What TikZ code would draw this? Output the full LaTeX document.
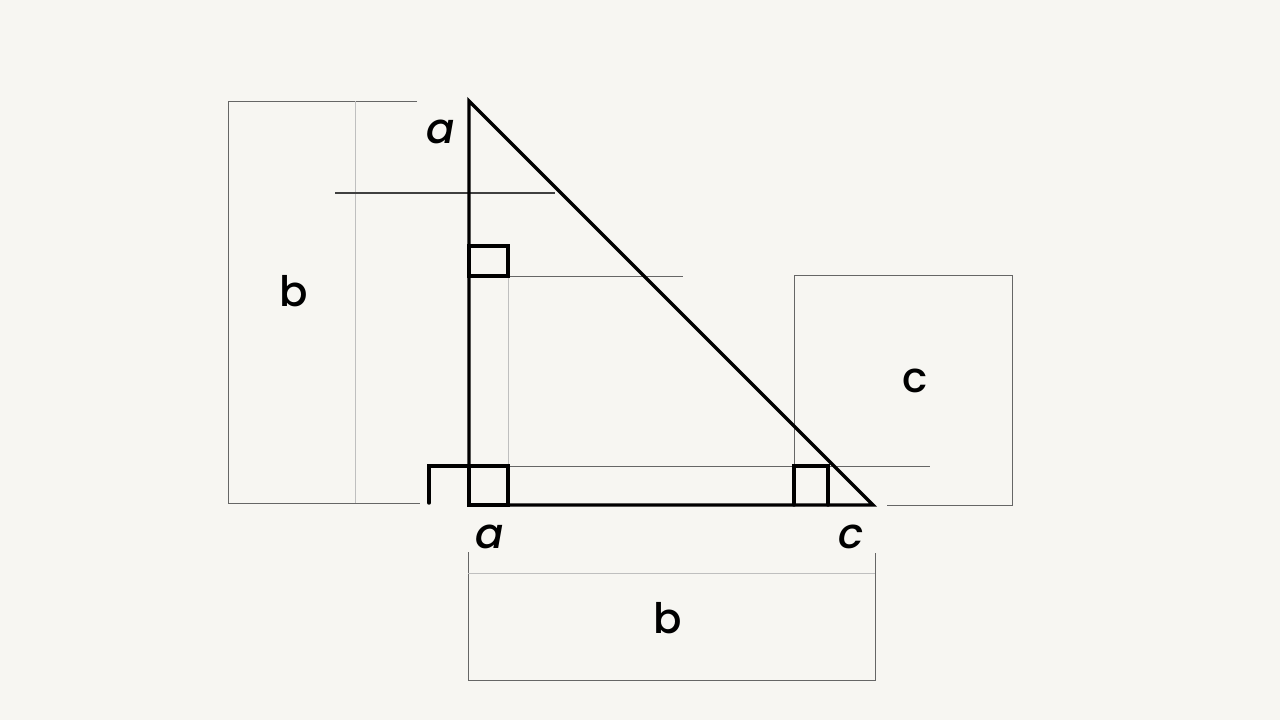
\documentclass[tikz,border=0pt]{standalone}
\usepackage{fontspec}
\setmainfont{Poppins}[UprightFont=* Medium, ItalicFont=* Medium Italic]
\definecolor{bgc}{HTML}{F7F6F2}
\begin{document}
\begin{tikzpicture}[x=0.5pt,y=-0.5pt,
  thick line/.style={line width=1.7pt,black,line cap=round,line join=miter},
  thin line/.style={line width=0.5pt,black!60},
  faint line/.style={line width=0.4pt,black!25},
  lbl/.style={font=\fontsize{21}{25}\selectfont}]
\fill[bgc] (0,0) rectangle (1280,720);
\useasboundingbox (0,0) rectangle (1280,720);
% left box
\draw[thin line] (417,101) -- (228,101) -- (228,503) -- (420,503);
\draw[faint line] (355,101) -- (355,503);
\draw[line width=0.6pt,black!75] (335,193) -- (555,193);
% lines inside
\draw[thin line] (508,276) -- (683,276);
\draw[faint line] (508,276) -- (508,466);
\draw[thin line] (508,466) -- (930,466);
% c box
\draw[thin line] (794,466) -- (794,275) -- (1012,275) -- (1012,505) -- (887,505);
% bottom box
\draw[thin line] (468,552) -- (468,680) -- (875,680) -- (875,553);
\draw[faint line] (468,573) -- (875,573);
% triangle
\coordinate (A) at (469,101); \coordinate (B) at (469,505); \coordinate (C) at (873,505);
\draw[thick line] (A) -- (B) -- (C) -- cycle;
\draw[thick line] (469,246) rectangle (508,276);
\draw[thick line] (469,466) rectangle (508,505);
\draw[thick line] (429,503) -- (429,466) -- (469,466);
\draw[thick line] (794,505) -- (794,466) -- (828,466) -- (828,505);
% labels
\node[lbl] (la1) at (441,132) {\itshape a};
\node[lbl] (lb1) at (294,291) {b};
\node[lbl] (lc1) at (915,381) {c};
\node[lbl] (la2) at (490,537) {\itshape a};
\node[lbl] (lc2) at (851,537) {\itshape c};
\node[lbl] (lb2) at (668,618) {b};
\end{tikzpicture}
\end{document}
